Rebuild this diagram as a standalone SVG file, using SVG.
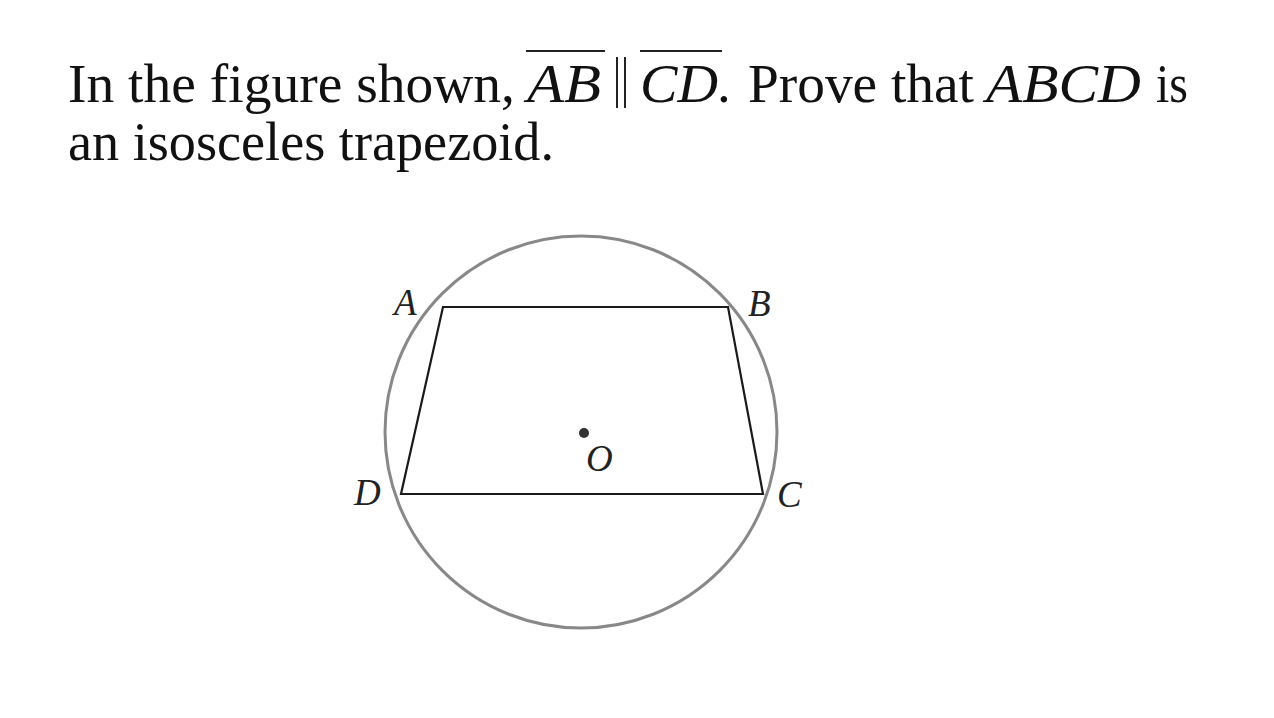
<svg xmlns="http://www.w3.org/2000/svg" width="1274" height="718" viewBox="0 0 1274 718">
<style>
.t{font-family:"Liberation Serif",serif;font-size:55px;fill:#111}
.i{font-style:italic}
.lbl{font-family:"Liberation Serif",serif;font-style:italic;font-size:37px;fill:#222}
.edge{stroke:#1a1a1a;stroke-width:2.2;fill:none}
.ol{stroke:#222;stroke-width:2}
</style>
<rect width="1274" height="718" fill="#fff"/>
<g id="text">
<text class="t" x="68" y="102" textLength="447" lengthAdjust="spacingAndGlyphs">In the figure shown,</text>
<text class="t i" x="527" y="102" textLength="74" lengthAdjust="spacingAndGlyphs">AB</text>
<line class="ol" x1="617" y1="57" x2="617" y2="108"/>
<line class="ol" x1="625" y1="57" x2="625" y2="108"/>
<text class="t i" x="640" y="102" textLength="78" lengthAdjust="spacingAndGlyphs">CD</text>
<text class="t" x="717" y="102">.</text>
<text class="t" x="748" y="102" textLength="226" lengthAdjust="spacingAndGlyphs">Prove that</text>
<text class="t i" x="986" y="102" textLength="155" lengthAdjust="spacingAndGlyphs">ABCD</text>
<text class="t" x="1156" y="102" textLength="32" lengthAdjust="spacingAndGlyphs">is</text>
<text class="t" x="68" y="160" textLength="486" lengthAdjust="spacingAndGlyphs">an isosceles trapezoid.</text>
<line class="ol" x1="526" y1="51" x2="605" y2="51"/>
<line class="ol" x1="640" y1="51" x2="722" y2="51"/>
</g>
<g id="circle">
<circle cx="581" cy="432" r="196" fill="none" stroke="#888" stroke-width="3"/>
</g>
<g id="connectors">
<polygon class="edge" points="443,307 728,307 763,494 401,494"/>
</g>
<g id="O">
<circle cx="584" cy="433" r="5" fill="#333"/>
<text class="lbl" x="586" y="471">O</text>
</g>
<g id="A"><text class="lbl" x="394" y="315">A</text></g>
<g id="B"><text class="lbl" x="748" y="316">B</text></g>
<g id="C"><text class="lbl" x="777" y="507">C</text></g>
<g id="D"><text class="lbl" x="354" y="505">D</text></g>
</svg>
